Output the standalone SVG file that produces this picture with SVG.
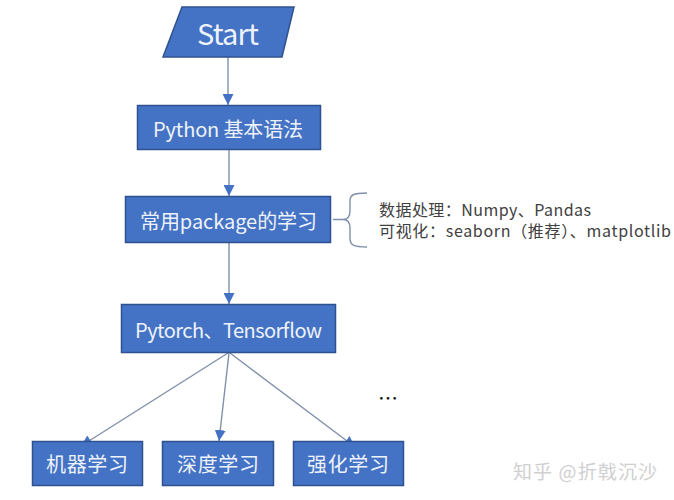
<svg xmlns="http://www.w3.org/2000/svg" width="674" height="500" viewBox="0 0 674 500">
<style>
.n{fill:#4472c4;stroke:#2f528f;stroke-width:1.5}
text{font-family:"Noto Sans CJK SC","Noto Sans",sans-serif}
.l{fill:#eef3fb;font-size:20px;text-anchor:middle}
.c{fill:none;stroke:#8090aa;stroke-width:1.4}
.d{fill:#404040;font-size:16px}
</style>
<defs><marker id="a" markerUnits="userSpaceOnUse" markerWidth="12" markerHeight="11" refX="11" refY="5.500" orient="auto"><path d="M0 0L11 5.500L0 11Z" fill="#4472c4"/></marker></defs>
<rect width="674" height="500" fill="#fff"/>
<g id="connectors">
<path class="c" marker-end="url(#a)" d="M228 57V105"/>
<path class="c" marker-end="url(#a)" d="M229 150V196"/>
<path class="c" marker-end="url(#a)" d="M229 243V304"/>
<path class="c" marker-end="url(#a)" d="M228 353L81 446"/>
<path class="c" marker-end="url(#a)" d="M229 353L219 441"/>
<path class="c" marker-end="url(#a)" d="M230 353L355 447"/>
<path class="c" d="M333 219.500H343C348 219.500 350 216 350 211V201C350 195 353 193 367 193M343 219.500C348 219.500 350 223 350 228V238C350 245 353 247 367 247"/>
</g>
<g id="start"><polygon class="n" points="182,7 294,7 282,57 163,57"/><text class="l" x="228" y="45" textLength="62" style="font-size:29px">Start</text></g>
<g id="python"><rect class="n" x="137.500" y="105.500" width="183" height="44"/><text class="l" x="228" y="137" textLength="150">Python 基本语法</text></g>
<g id="package"><rect class="n" x="125.500" y="196.500" width="205" height="46"/><text class="l" x="228.500" y="229" textLength="177">常用package的学习</text></g>
<g id="pytorch"><rect class="n" x="121.500" y="304.500" width="214" height="48"/><text class="l" x="228.500" y="338" textLength="187">Pytorch、Tensorflow</text></g>
<g id="ml"><rect class="n" x="32.500" y="441.500" width="110" height="44"/><text class="l" x="87" y="472" textLength="82">机器学习</text></g>
<g id="dl"><rect class="n" x="162.500" y="441.500" width="111" height="44"/><text class="l" x="218" y="472" textLength="82">深度学习</text></g>
<g id="rl"><rect class="n" x="293.500" y="441.500" width="110" height="44"/><text class="l" x="348" y="472" textLength="82">强化学习</text></g>
<g id="notes"><text class="d" x="379" y="216" textLength="212">数据处理：Numpy、Pandas</text><text class="d" x="379" y="237" textLength="292">可视化：seaborn（推荐）、matplotlib</text><text class="d" x="378" y="406" textLength="20" style="fill:#111;font-size:20px">…</text></g>
<g id="watermark"><text x="513" y="479" textLength="144" style="fill:#d0d0d0;font-size:19px">知乎 @折戟沉沙</text></g>
</svg>
